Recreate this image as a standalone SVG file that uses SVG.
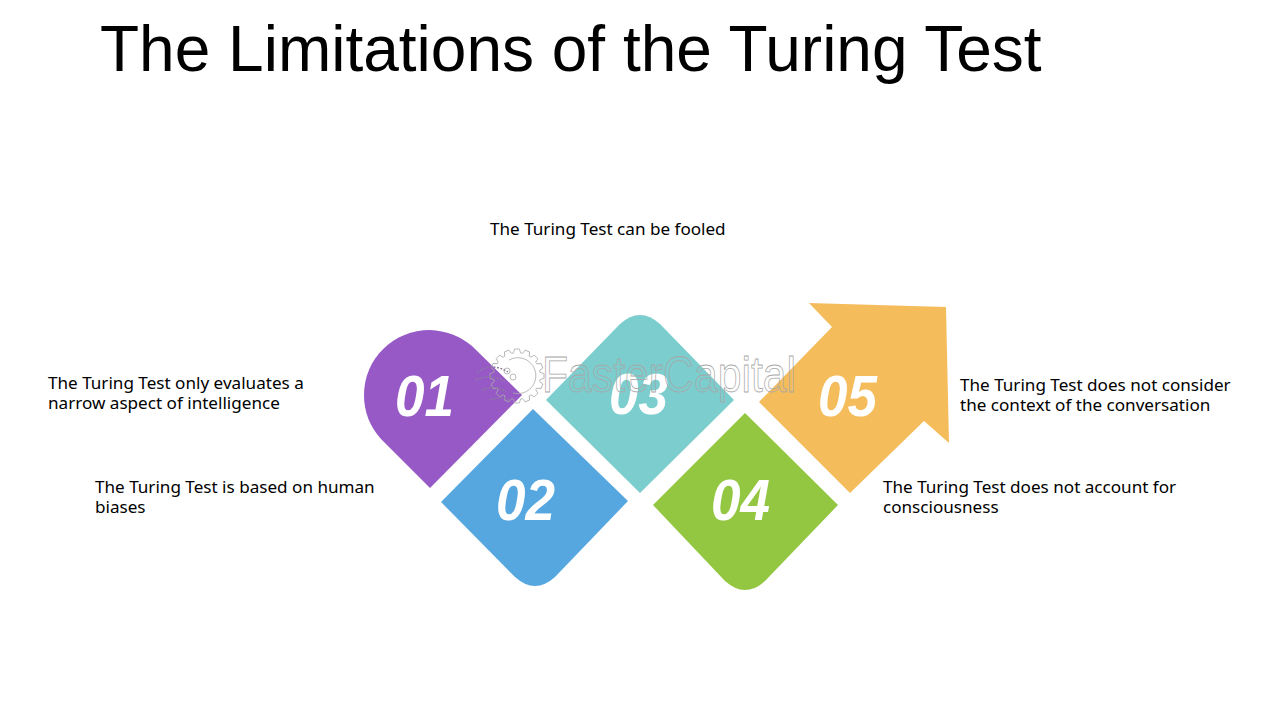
<svg xmlns="http://www.w3.org/2000/svg" width="1280" height="720" viewBox="0 0 1280 720">
<defs><path id="tooth" d="M-3.6 -23L-2.4 -27H2.4L3.6 -23L5.48 -22.63" fill="none" stroke="#aaa" stroke-width=".8"/></defs>
<style>
.t{font-family:"Noto Sans","Open Sans",sans-serif;font-size:17.1px;fill:#000}
.n{font-family:"Liberation Sans",Arial,sans-serif;font-size:58px;font-weight:700;font-style:italic;fill:#fff}
.wm{font-family:"Liberation Sans",Arial,sans-serif;font-size:50px;fill:none;stroke:#a8a8a8;stroke-width:.8}
</style>
<rect width="1280" height="720" fill="#fff"/>
<text x="100" y="71" font-family="Liberation Sans, Arial, sans-serif" font-size="64" fill="#000">The Limitations of the Turing Test</text>
<g id="node-01"><path d="M522 395L430 488L381 439Q364 420 364 395C364 358 394 330 430 330Q454 331 472 346Z" fill="#9659c6"/><text class="n" x="395" y="416" textLength="59" lengthAdjust="spacingAndGlyphs">01</text></g>
<g id="node-02"><path d="M533 409L628 501L555 577Q535 595 515 577L441 502Z" fill="#56a7e0"/><text class="n" x="496" y="520" textLength="59" lengthAdjust="spacingAndGlyphs">02</text></g>
<g id="node-03"><path d="M546 400L620 324Q640 306 660 324L734 400L640 493Z" fill="#7ccdce"/><text class="n" x="609" y="414" textLength="59" lengthAdjust="spacingAndGlyphs">03</text></g>
<g id="node-04"><path d="M745 413L838 505L765 581Q745 599 725 581L653 505Z" fill="#93c742"/><text class="n" x="711" y="520" textLength="59" lengthAdjust="spacingAndGlyphs">04</text></g>
<g id="node-05"><path d="M809 303L946 307L949 443L924 421L850 493L759 402L832 327Z" fill="#f5bc5c"/><text class="n" x="818" y="416" textLength="59" lengthAdjust="spacingAndGlyphs">05</text></g>
<g id="watermark">
<g transform="translate(517 376)">
<use href="#tooth"/><use href="#tooth" transform="rotate(22.5)"/><use href="#tooth" transform="rotate(45)"/><use href="#tooth" transform="rotate(67.5)"/><use href="#tooth" transform="rotate(90)"/><use href="#tooth" transform="rotate(112.5)"/><use href="#tooth" transform="rotate(135)"/><use href="#tooth" transform="rotate(157.5)"/><use href="#tooth" transform="rotate(180)"/><use href="#tooth" transform="rotate(202.5)"/><use href="#tooth" transform="rotate(225)"/><use href="#tooth" transform="rotate(247.5)"/><use href="#tooth" transform="rotate(270)"/><use href="#tooth" transform="rotate(292.5)"/><use href="#tooth" transform="rotate(315)"/><use href="#tooth" transform="rotate(337.5)"/>
<path d="M-8 -16A18 18 0 1 1 -4 17" fill="none" stroke="#aaa" stroke-width=".8"/>
<circle cx="-10" cy="-5" r="3" fill="none" stroke="#aaa" stroke-width=".8"/><circle cx="-4" cy="1" r="3" fill="none" stroke="#aaa" stroke-width=".8"/>
</g>
<path d="M477 372Q492 362 508 372M476 380Q492 373 506 382M482 390Q496 384 506 392M490 400Q502 396 510 400" fill="none" stroke="#8c7c9c" stroke-width="1.4" stroke-dasharray="2 1.5"/>
<text class="wm" x="542" y="392" textLength="254" lengthAdjust="spacingAndGlyphs">FasterCapital</text></g>
<g id="labels">
<text class="t" x="490" y="235">The Turing Test can be fooled</text>
<text class="t" x="48" y="388.5">The Turing Test only evaluates a</text>
<text class="t" x="48" y="409">narrow aspect of intelligence</text>
<text class="t" x="95" y="493">The Turing Test is based on human</text>
<text class="t" x="95" y="513">biases</text>
<text class="t" x="960" y="391">The Turing Test does not consider</text>
<text class="t" x="960" y="411">the context of the conversation</text>
<text class="t" x="883" y="493">The Turing Test does not account for</text>
<text class="t" x="883" y="513">consciousness</text>
</g>
<g id="connectors"></g>
</svg>
